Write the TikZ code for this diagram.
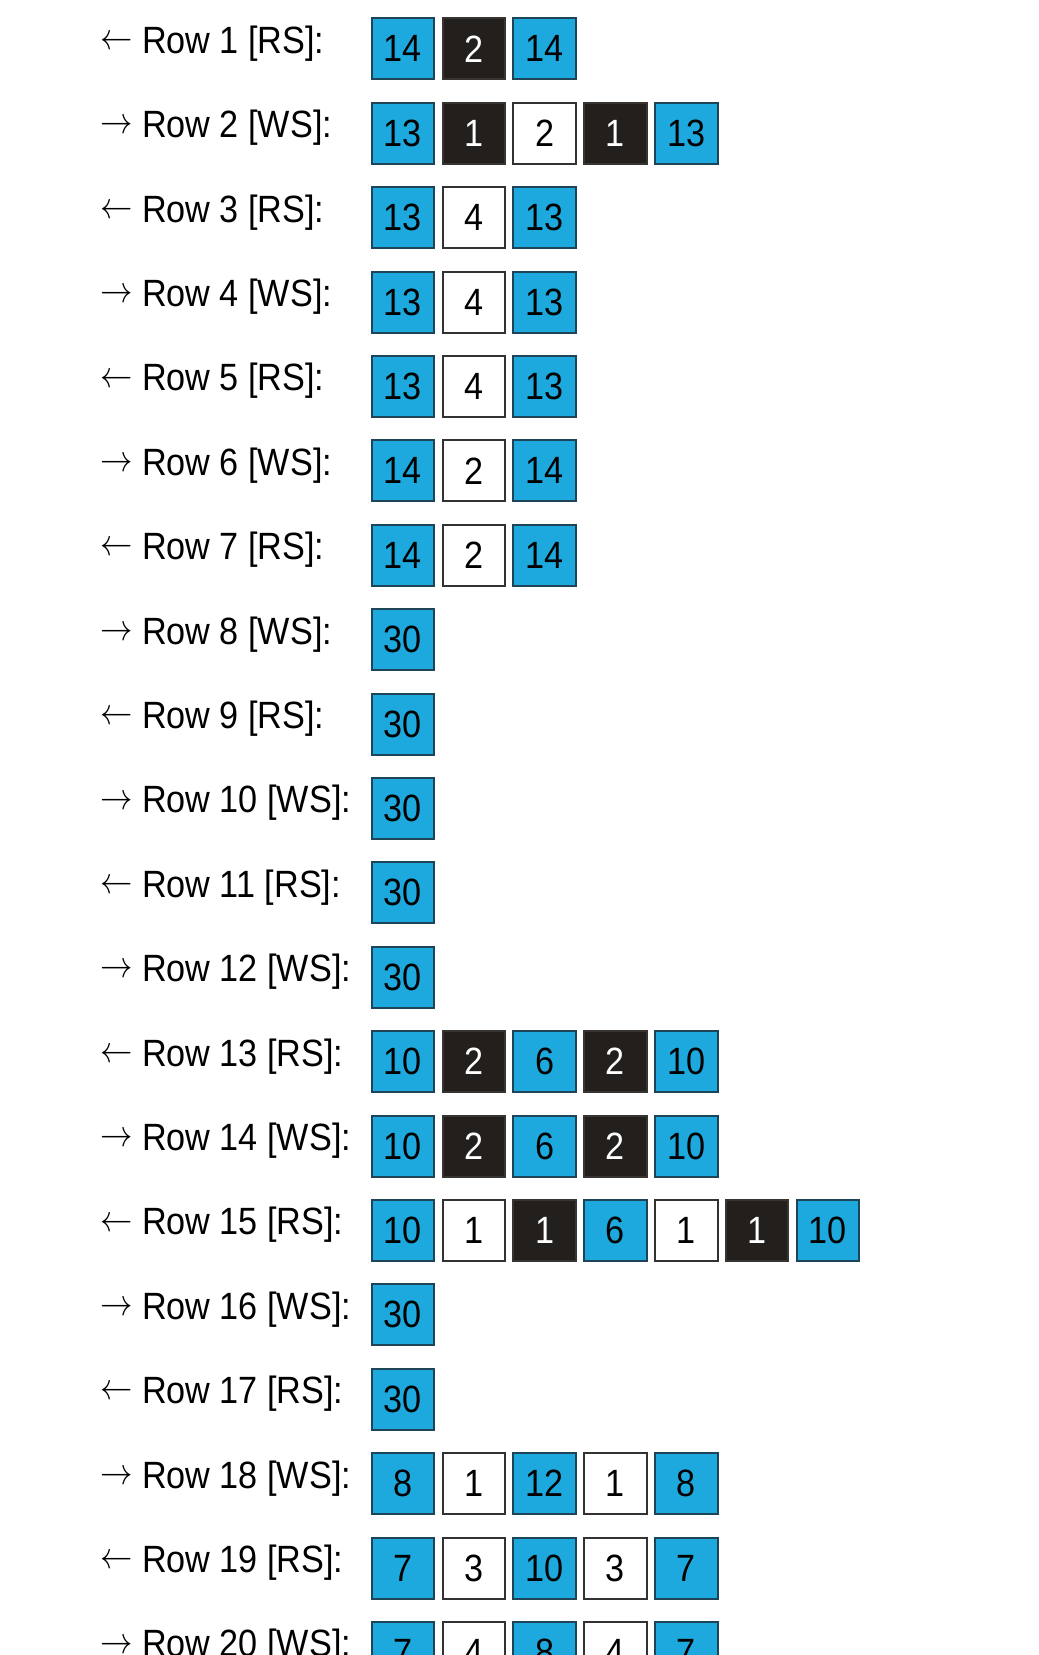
\documentclass[tikz,border=0pt]{standalone}
\usepackage{fontspec}
\usepackage{graphicx}
\setmainfont[FakeStretch=0.9]{Liberation Sans}
\definecolor{cellblue}{RGB}{29,169,222}
\definecolor{blueedge}{RGB}{30,68,88}
\definecolor{cellblack}{RGB}{35,31,28}
\definecolor{blackedge}{RGB}{55,52,50}
\definecolor{greyedge}{RGB}{50,50,50}
\newcommand{\rowarrow}[1]{\raisebox{0.1em}{\scalebox{1.3}[1.5]{$#1$}}}
\begin{document}
\begin{tikzpicture}[x=1pt,y=-1pt,
  cell/.style={draw, line width=2pt, minimum width=62.6pt, minimum height=61pt,
    inner sep=0pt, font=\fontsize{38}{40}\selectfont},
  cellb/.style={cell, fill=cellblue, draw=blueedge, text=black},
  cellk/.style={cell, fill=cellblack, draw=blackedge, text=white},
  cellw/.style={cell, fill=white, draw=greyedge, text=black},
  rowlabel/.style={anchor=base west, inner sep=0pt, font=\fontsize{38}{40}\selectfont}]
\path[use as bounding box] (0,0) rectangle (1039,1655);
\clip (0,0) rectangle (1039,1655);
\foreach \rr/\dd/\ss/\cc in {
  1/\leftarrow/RS/{b/14,k/2,b/14},
  2/\rightarrow/WS/{b/13,k/1,w/2,k/1,b/13},
  3/\leftarrow/RS/{b/13,w/4,b/13},
  4/\rightarrow/WS/{b/13,w/4,b/13},
  5/\leftarrow/RS/{b/13,w/4,b/13},
  6/\rightarrow/WS/{b/14,w/2,b/14},
  7/\leftarrow/RS/{b/14,w/2,b/14},
  8/\rightarrow/WS/{b/30},
  9/\leftarrow/RS/{b/30},
  10/\rightarrow/WS/{b/30},
  11/\leftarrow/RS/{b/30},
  12/\rightarrow/WS/{b/30},
  13/\leftarrow/RS/{b/10,k/2,b/6,k/2,b/10},
  14/\rightarrow/WS/{b/10,k/2,b/6,k/2,b/10},
  15/\leftarrow/RS/{b/10,w/1,k/1,b/6,w/1,k/1,b/10},
  16/\rightarrow/WS/{b/30},
  17/\leftarrow/RS/{b/30},
  18/\rightarrow/WS/{b/8,w/1,b/12,w/1,b/8},
  19/\leftarrow/RS/{b/7,w/3,b/10,w/3,b/7},
  20/\rightarrow/WS/{b/7,w/4,b/8,w/4,b/7}}{
  \pgfmathsetmacro\yc{48.8+84.4*(\rr-1)}
  \node[rowlabel] (lab\rr) at (100,\yc+4.5) {\rowarrow{\dd}\ Row \rr\ [\ss]:};
  \foreach \tt/\nn [count=\kk from 0] in \cc {
    \node[cell\tt] (c\rr-\kk) at (403+70.8*\kk,\yc) {\nn};
  }
}
\end{tikzpicture}
\end{document}
